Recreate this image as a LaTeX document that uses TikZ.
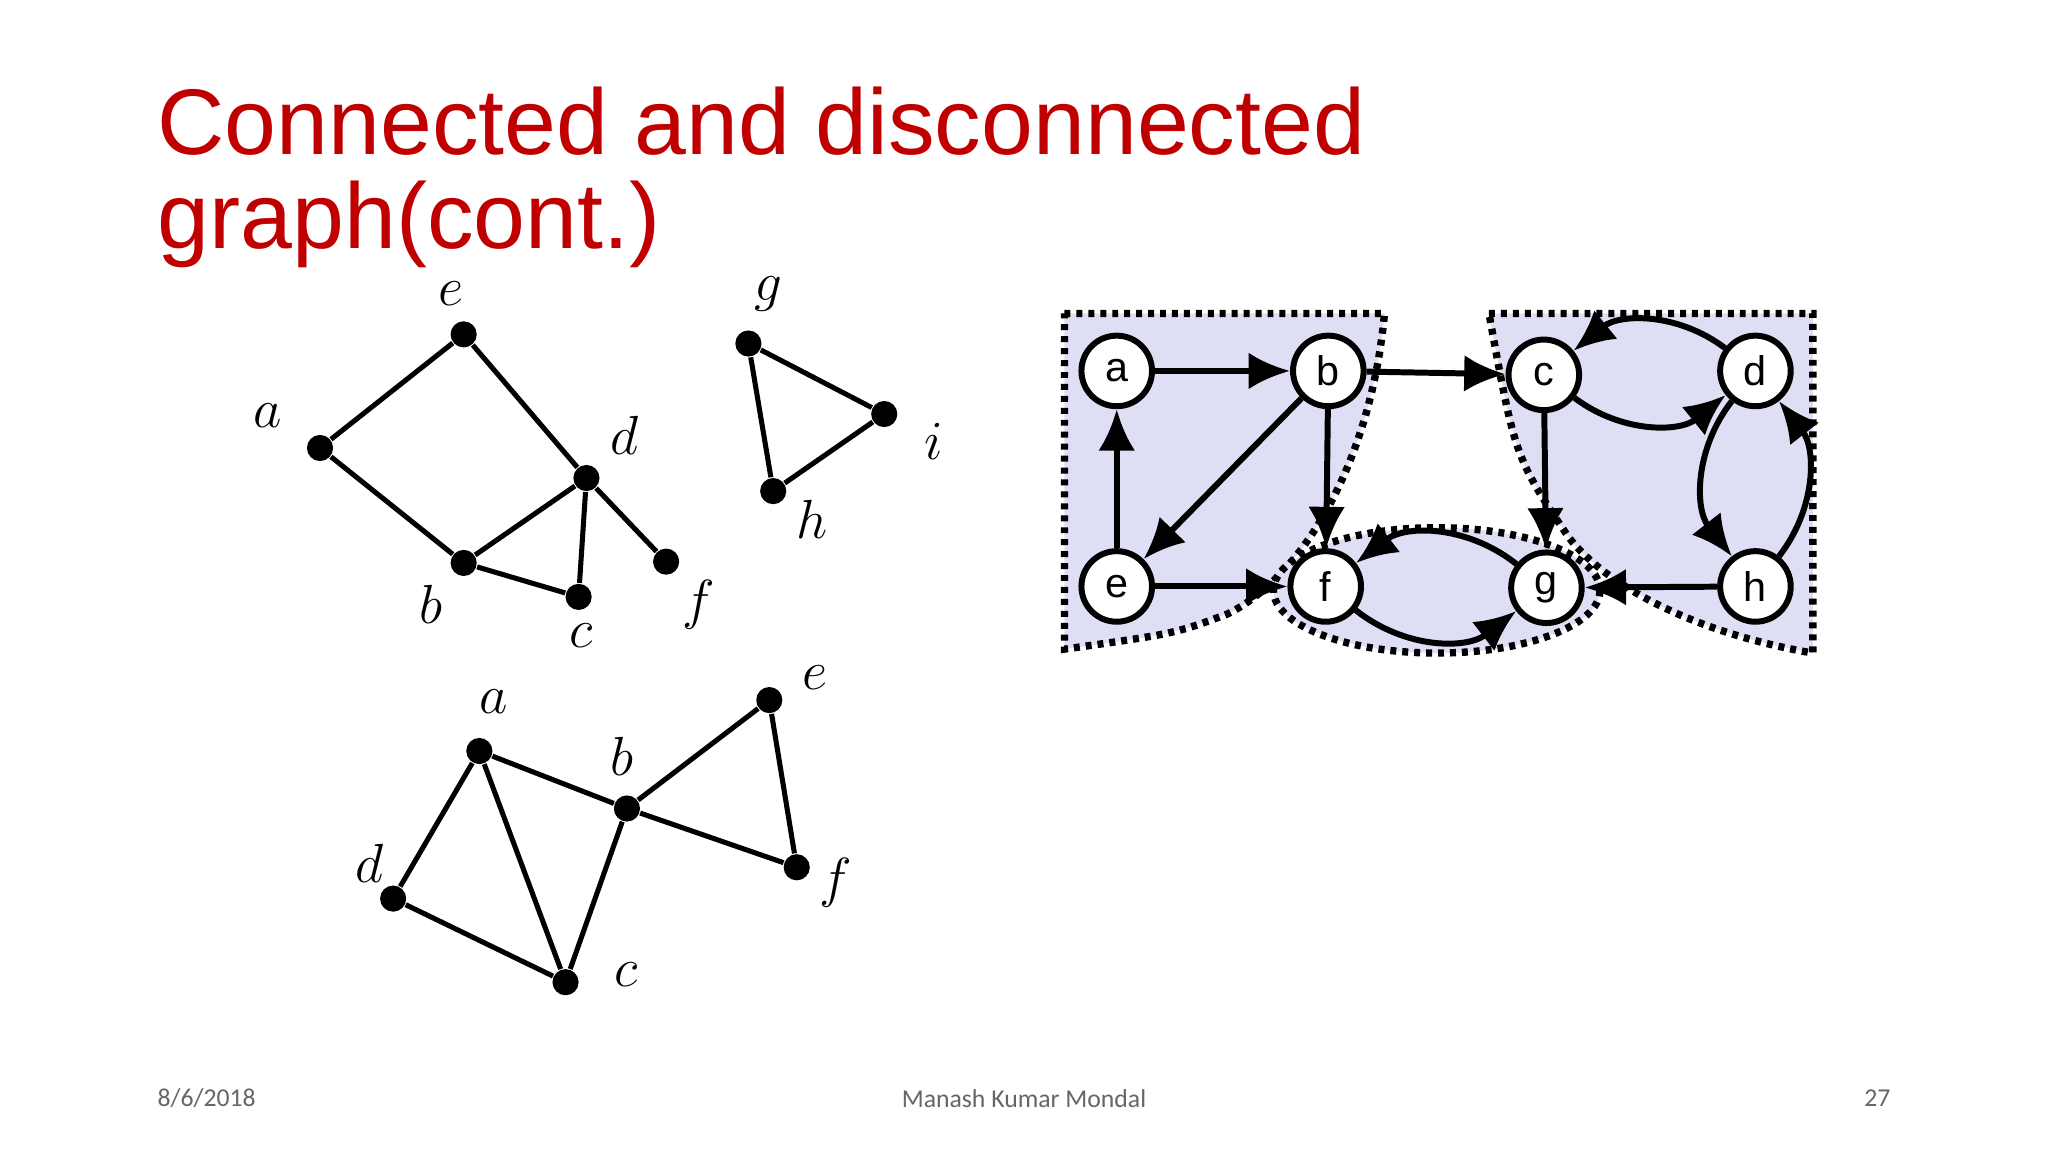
\documentclass[tikz,border=0pt]{standalone}
\usepackage{fontspec}
\setmainfont{Liberation Sans}
\newfontfamily\foot{Carlito}
\usetikzlibrary{arrows.meta}
\definecolor{ttl}{RGB}{192,0,0}
\definecolor{lav}{RGB}{222,222,245}
\begin{document}
\begin{tikzpicture}[x=0.01cm,y=-0.01cm,
 dot/.style={circle,fill=black,inner sep=0pt,minimum size=0.2cm},
 lab/.style={font=\large},
 gn/.style={circle,draw,line width=1.3pt,fill=white,minimum size=0.54cm,inner sep=0pt,font=\small},
 ge/.style={line width=1.3pt,-{Latex[length=9pt,width=8pt]}},
 reg/.style={fill=lav,draw,line width=1.6pt,dash pattern=on 1.3pt off 1.3pt},
 ed/.style={line width=1.1pt},
 tt/.style={anchor=base west,text=ttl,font=\fontsize{20.3}{20}\selectfont,inner sep=0},
 ft/.style={font=\foot\fontsize{5.6}{7}\selectfont,text=black!60,inner sep=0}]
\useasboundingbox (0,0) rectangle (1568,882);
\node[tt] (t1) at (120,118) {Connected and disconnected};
\node[tt] (t2) at (120,190) {graph(cont.)};
% graph 1
\foreach \n/\x/\y in {e/355/256,a/245/343,d/449/366,b/355/431,c/443/457,f/510/430,g/573/263,i/677/317,h/592/376}
 \node[dot] (\n) at (\x,\y) {};
\draw[ed] (a)--(e) (e)--(d) (a)--(b) (b)--(d) (b)--(c) (d)--(c) (d)--(f) (g)--(i) (g)--(h) (h)--(i);
\foreach \n/\x/\y in {e/345/225,a/205/318,d/478/333,b/330/463,c/445/487,f/535/463,g/588/225,i/715/338,h/622/398}
 \node[lab] (l\n) at (\x,\y) {$\n$};
% graph 2
\foreach \n/\x/\y in {a/367/575,b/480/619,e/589/536,f/610/664,d/301/688,c/433/752}
 \node[dot] (B\n) at (\x,\y) {};
\draw[ed] (Ba)--(Bb) (Bb)--(Be) (Be)--(Bf) (Bb)--(Bf) (Ba)--(Bd) (Ba)--(Bc) (Bd)--(Bc) (Bb)--(Bc);
\foreach \n/\x/\y in {a/378/537,b/476/579,e/624/519,f/640/676,d/283/661,c/479/746}
 \node[lab] (lB\n) at (\x,\y) {$\n$};
% right diagram regions
\draw[reg] (815,240) -- (1060,240) .. controls (1050,350) and (1000,440) .. (940,470) .. controls (900,485) .. (815,497) -- cycle;
\draw[reg] (1140,240) -- (1388,240) -- (1388,500) .. controls (1300,485) and (1230,450) .. (1200,410) .. controls (1160,350) .. (1140,240) -- cycle;
\draw[reg] (1100,452) ellipse [x radius=125,y radius=48];
\foreach \n/\x/\y in {a/855/284,b/1017/284,c/1182/287,d/1344/284,e/855/449,f/1015/449,g/1184/450,h/1344/449}
 \node[gn] (R\n) at (\x,\y) {\n};
\draw[ge] (Ra)--(Rb);
\draw[ge] (Re)--(Ra);
\draw[ge] (Rb)--(Re);
\draw[ge] (Rb)--(Rf);
\draw[ge] (Re)--(Rf);
\draw[ge] (Rb)--(Rc);
\draw[ge] (Rc)--(Rg);
\draw[ge] (Rh)--(Rg);
\draw[ge] (Rd) to[bend right=38] (Rc);
\draw[ge] (Rc) to[bend right=38] (Rd);
\draw[ge] (Rh) to[bend right=38] (Rd);
\draw[ge] (Rd) to[bend right=38] (Rh);
\draw[ge] (Rg) to[bend right=38] (Rf);
\draw[ge] (Rf) to[bend right=38] (Rg);
% footer
\node[ft,anchor=west] (f1) at (120,841) {8/6/2018};
\node[ft] (f2) at (784,841) {Manash Kumar Mondal};
\node[ft,anchor=east] (f3) at (1448,841) {27};
\end{tikzpicture}
\end{document}
